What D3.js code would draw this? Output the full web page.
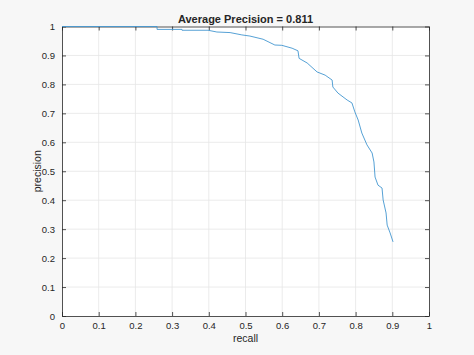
<!DOCTYPE html>
<html>
<head>
<meta charset="utf-8">
<script src="https://cdn.jsdelivr.net/npm/d3@7"></script>
<style>
  body { margin: 0; background: #f7f7f7; }
  text { font-family: "Liberation Sans", Arial, sans-serif; fill: #262626; }
</style>
</head>
<body>
<div class="chart"></div>
<script>
// recall / precision points
var recall = [0, 0.259, 0.259, 0.327, 0.327, 0.398, 0.422, 0.458, 0.490, 0.512, 0.548, 0.580,
  0.599, 0.627, 0.643, 0.646, 0.668, 0.695, 0.717, 0.736, 0.738, 0.752, 0.777, 0.790, 0.798,
  0.807, 0.817, 0.831, 0.845, 0.850, 0.853, 0.861, 0.872, 0.875, 0.883, 0.886, 0.894, 0.902];
var precision = [1, 1, 0.990, 0.990, 0.987, 0.987, 0.981, 0.979, 0.971, 0.967, 0.956, 0.936,
  0.935, 0.925, 0.916, 0.890, 0.874, 0.843, 0.832, 0.815, 0.791, 0.770, 0.746, 0.736, 0.705,
  0.677, 0.632, 0.591, 0.563, 0.532, 0.480, 0.452, 0.442, 0.401, 0.356, 0.314, 0.287, 0.256];
var xTicks = [0, 0.1, 0.2, 0.3, 0.4, 0.5, 0.6, 0.7, 0.8, 0.9, 1];
var yTicks = [0, 0.1, 0.2, 0.3, 0.4, 0.5, 0.6, 0.7, 0.8, 0.9, 1];
var titleText = "Average Precision = 0.811";

var svgWidth = 474;
var svgHeight = 355;
var margin = { top: 26.5, right: 45, bottom: 39, left: 62 };
var width = svgWidth - margin.left - margin.right;
var height = svgHeight - margin.top - margin.bottom;

var svg = d3.select(".chart")
    .append("svg")
    .attr("width", svgWidth)
    .attr("height", svgHeight);

var chartGroup = svg.append("g")
    .attr("transform", `translate(${margin.left}, ${margin.top})`);

var xScale = d3.scaleLinear().domain([0, 1]).range([0, width]);
var yScale = d3.scaleLinear().domain([0, 1]).range([height, 0]);

chartGroup.append("rect")
    .attr("width", width)
    .attr("height", height)
    .attr("fill", "white");

// grid
chartGroup.selectAll(".vgrid")
    .data(xTicks.slice(1, -1))
    .enter()
    .append("line")
    .attr("x1", d => xScale(d)).attr("x2", d => xScale(d))
    .attr("y1", 0).attr("y2", height)
    .attr("stroke", "#e6e6e6").attr("stroke-width", 0.8);
chartGroup.selectAll(".hgrid")
    .data(yTicks.slice(1, -1))
    .enter()
    .append("line")
    .attr("x1", 0).attr("x2", width)
    .attr("y1", d => yScale(d)).attr("y2", d => yScale(d))
    .attr("stroke", "#e6e6e6").attr("stroke-width", 0.8);

// axes (ticks inside, box on)
var bottomAxis = d3.axisBottom(xScale).tickValues(xTicks).tickFormat(d3.format("")).tickSizeInner(-4).tickSizeOuter(0).tickPadding(6);
var topAxis = d3.axisTop(xScale).tickValues(xTicks).tickFormat("").tickSizeInner(-4).tickSizeOuter(0);
var leftAxis = d3.axisLeft(yScale).tickValues(yTicks).tickFormat(d3.format("")).tickSizeInner(-4).tickSizeOuter(0).tickPadding(7);
var rightAxis = d3.axisRight(yScale).tickValues(yTicks).tickFormat("").tickSizeInner(-4).tickSizeOuter(0);

function styleAxis(g) {
  g.select(".domain").attr("stroke", "#262626").attr("stroke-width", 0.8);
  g.selectAll(".tick line").attr("stroke", "#262626").attr("stroke-width", 0.8);
  g.selectAll(".tick text").attr("font-size", 9.5).attr("fill", "#262626")
    .attr("font-family", "Liberation Sans, Arial, sans-serif");
}

chartGroup.append("g").attr("transform", `translate(0, ${height})`).call(bottomAxis).call(styleAxis);
chartGroup.append("g").call(topAxis).call(styleAxis);
chartGroup.append("g").call(leftAxis).call(styleAxis);
chartGroup.append("g").attr("transform", `translate(${width}, 0)`).call(rightAxis).call(styleAxis);

// curve
var pts = recall.map((r, i) => [r, precision[i]]);
var line = d3.line().x(d => xScale(d[0])).y(d => yScale(d[1]));
chartGroup.append("path")
    .datum(pts)
    .attr("d", line)
    .attr("fill", "none")
    .attr("stroke", "#4396d0")
    .attr("stroke-width", 0.9);

// labels
svg.append("text")
    .attr("x", margin.left + width / 2)
    .attr("y", 23)
    .attr("text-anchor", "middle")
    .attr("font-size", 11)
    .attr("font-weight", "bold")
    .attr("fill", "#000")
    .text(titleText);

svg.append("text")
    .attr("x", margin.left + width / 2)
    .attr("y", margin.top + height + 25.5)
    .attr("text-anchor", "middle")
    .attr("font-size", 10.5)
    .text("recall");

svg.append("text")
    .attr("transform", `translate(41, ${margin.top + height / 2}) rotate(-90)`)
    .attr("text-anchor", "middle")
    .attr("font-size", 10.5)
    .text("precision");
</script>
</body>
</html>
